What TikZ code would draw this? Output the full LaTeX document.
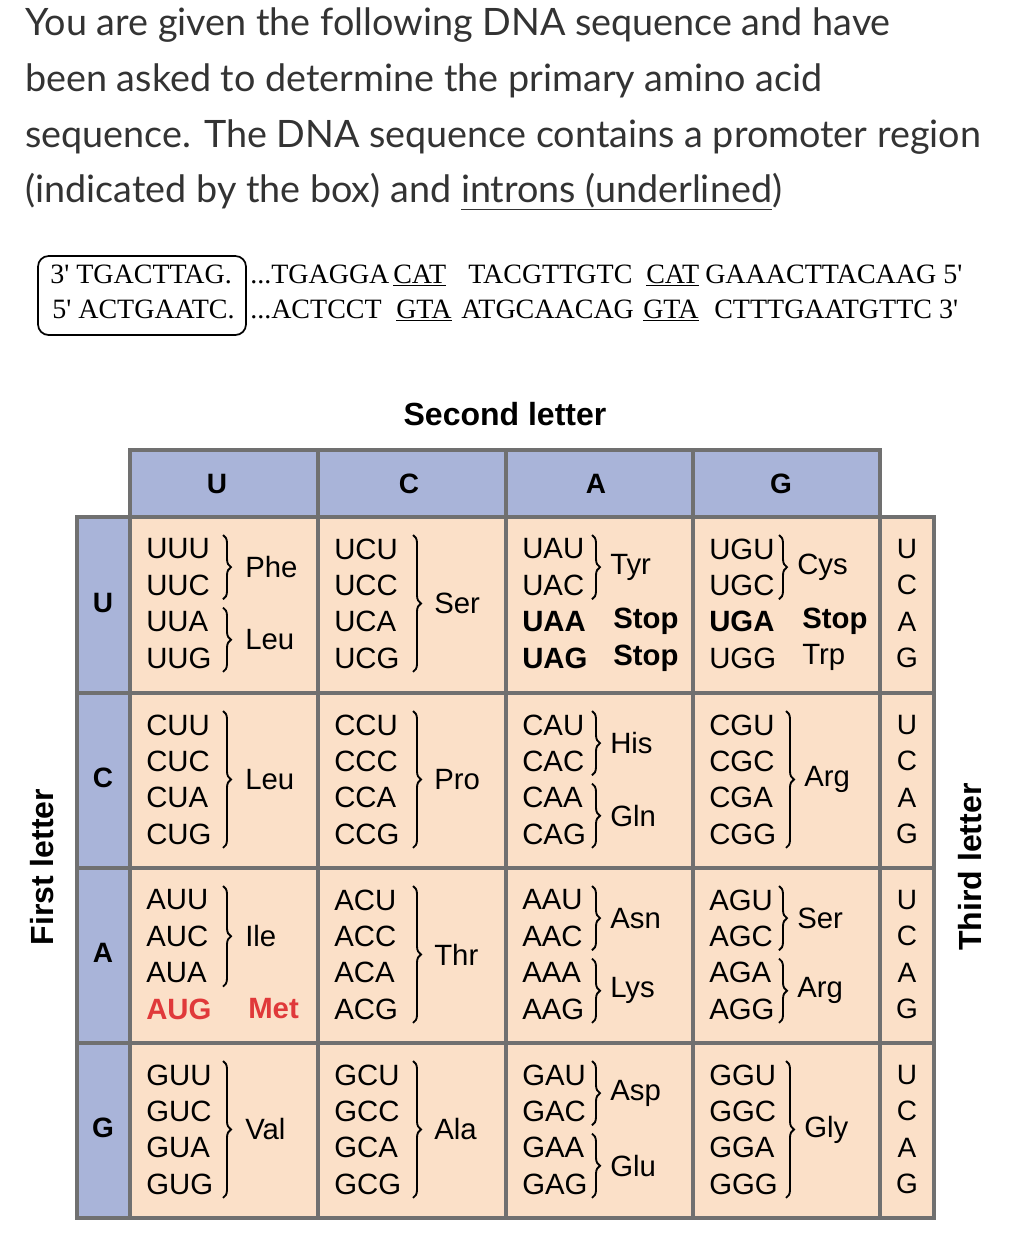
\documentclass[tikz,border=0pt]{standalone}
\usepackage{fontspec}
\setmainfont{Liberation Sans}
\newfontfamily\lato{Lato}
\newfontfamily\tms{Liberation Serif}
\usetikzlibrary{decorations.pathreplacing}
\definecolor{hdr}{HTML}{A9B4D9}
\definecolor{cel}{HTML}{FBE0C8}
\definecolor{grd}{HTML}{707070}
\definecolor{metred}{HTML}{E0393A}
\tikzset{
 cd/.style={inner sep=0pt,anchor=west,font=\fontsize{22}{24}\selectfont},
 hd/.style={inner sep=0pt,font=\bfseries\fontsize{21}{24}\selectfont},
 lbl/.style={inner sep=0pt,font=\bfseries\fontsize{24}{26}\selectfont},
 brc/.style={decorate,decoration={brace,amplitude=6},line width=1.4pt},
 ttl/.style={inner sep=0pt,anchor=base west,font=\lato\fontsize{28.3}{30}\selectfont,text=black!80},
 dna/.style={inner sep=0pt,anchor=base west,font=\tms\fontsize{21}{22}\selectfont},
 grid/.style={draw=grd,line width=2.5pt}
}
\newcommand\cod[4]{\node[cd] at (#1+16,{#2+32+36.3*#3}) {#4};}
\newcommand\brc[6]{\draw[brc] (#1,{#2+18+36.3*#3}) -- (#1,{#2+46+36.3*#4});
 \node[cd] at (#1+#6,{#2+32+36.3*(#3+#4)/2}) {#5};}
\begin{document}
\begin{tikzpicture}[x=0.75pt,y=-0.75pt]
\useasboundingbox (0,0) rectangle (1012,1254);
% title
\node[ttl] (t1) at (25,35) {You are given the following DNA sequence and have};
\node[ttl] (t2) at (25,91) {been asked to determine the primary amino acid};
\node[ttl] (t3) at (25,147) {sequence. The DNA sequence contains a promoter region};
\node[ttl] (t4) at (25,202) {(indicated by the box) and \underline{introns (underlined})};
% DNA
\draw[line width=1.3pt,rounded corners=8pt] (38,256) rectangle (246,335);
\node[dna] (a1) at (50,283) {3' TGACTTAG.};
\node[dna] (a2) at (250,283) {...TGAGGA};
\node[dna] (a3) at (393,283) {\underline{CAT}};
\node[dna] (a4) at (468,283) {TACGTTGTC};
\node[dna] (a5) at (646,283) {\underline{CAT}};
\node[dna] (a6) at (705,283) {GAAACTTACAAG 5'};
\node[dna] (b1) at (52,318) {5' ACTGAATC.};
\node[dna] (b2) at (250,318) {...ACTCCT};
\node[dna] (b3) at (396,318) {\underline{GTA}};
\node[dna] (b4) at (461,318) {ATGCAACAG};
\node[dna] (b5) at (643,318) {\underline{GTA}};
\node[dna] (b6) at (714,318) {CTTTGAATGTTC 3'};
% table backgrounds
\fill[hdr] (130,450) rectangle (880,517);
\fill[hdr] (77,517) rectangle (130,1218);
\fill[cel] (130,517) rectangle (934,1218);
\draw[grid] (130,450) rectangle (880,517);
\foreach \x in {318,506,693} \draw[grid] (\x,450) -- (\x,1218);
\draw[grid] (77,517) rectangle (934,1218);
\foreach \x in {130,880} \draw[grid] (\x,517) -- (\x,1218);
\foreach \y in {693,868,1043} \draw[grid] (77,\y) -- (934,\y);
% labels
\node[lbl] (sl) at (505,414) {Second letter};
\node[lbl,rotate=90] (fl) at (42,867) {First letter};
\node[lbl,rotate=90] (tl) at (970,867) {Third letter};
\foreach \t/\x in {U/217,C/409,A/596,G/781} \node[hd] at (\x,484) {\t};
\foreach \t/\y in {U/603,C/778,A/953,G/1128} \node[hd] at (103,\y) {\t};
\foreach \R in {517,693,868,1043}
 \foreach \t [count=\i from 0] in {U,C,A,G}
  \node[cd,anchor=center,font=\fontsize{21}{24}\selectfont] at (907,{\R+32+36.3*\i}) {\t};
% Row U
\cod{130}{517}{0}{UUU}\cod{130}{517}{1}{UUC}\cod{130}{517}{2}{UUA}\cod{130}{517}{3}{UUG}
\brc{223}{517}{0}{1}{Phe}{22}\brc{223}{517}{2}{3}{Leu}{22}
\cod{318}{517}{0}{UCU}\cod{318}{517}{1}{UCC}\cod{318}{517}{2}{UCA}\cod{318}{517}{3}{UCG}
\brc{413}{517}{0}{3}{Ser}{21}
\cod{506}{517}{0}{UAU}\cod{506}{517}{1}{UAC}\brc{592}{517}{0}{1}{Tyr}{18}
\cod{506}{517}{2}{\textbf{UAA}}\cod{506}{517}{3}{\textbf{UAG}}
\node[cd] at (613,{517+32+36.3*2}) {\textbf{Stop}};
\node[cd] at (613,{517+32+36.3*3}) {\textbf{Stop}};
\cod{693}{517}{0}{UGU}\cod{693}{517}{1}{UGC}\brc{779}{517}{0}{1}{Cys}{18}
\cod{693}{517}{2}{\textbf{UGA}}\cod{693}{517}{3}{UGG}
\node[cd] at (802,{517+32+36.3*2}) {\textbf{Stop}};
\node[cd] at (802,{517+32+36.3*3}) {Trp};
% Row C
\cod{130}{693}{0}{CUU}\cod{130}{693}{1}{CUC}\cod{130}{693}{2}{CUA}\cod{130}{693}{3}{CUG}
\brc{223}{693}{0}{3}{Leu}{22}
\cod{318}{693}{0}{CCU}\cod{318}{693}{1}{CCC}\cod{318}{693}{2}{CCA}\cod{318}{693}{3}{CCG}
\brc{413}{693}{0}{3}{Pro}{21}
\cod{506}{693}{0}{CAU}\cod{506}{693}{1}{CAC}\cod{506}{693}{2}{CAA}\cod{506}{693}{3}{CAG}
\brc{592}{693}{0}{1}{His}{18}\brc{592}{693}{2}{3}{Gln}{18}
\cod{693}{693}{0}{CGU}\cod{693}{693}{1}{CGC}\cod{693}{693}{2}{CGA}\cod{693}{693}{3}{CGG}
\brc{786}{693}{0}{3}{Arg}{18}
% Row A
\cod{130}{868}{0}{AUU}\cod{130}{868}{1}{AUC}\cod{130}{868}{2}{AUA}
\cod{130}{868}{3}{\textcolor{metred}{\textbf{AUG}}}
\node[cd] at (248,{868+32+36.3*3}) {\textcolor{metred}{\textbf{Met}}};
\brc{223}{868}{0}{2}{Ile}{22}
\cod{318}{868}{0}{ACU}\cod{318}{868}{1}{ACC}\cod{318}{868}{2}{ACA}\cod{318}{868}{3}{ACG}
\brc{413}{868}{0}{3}{Thr}{21}
\cod{506}{868}{0}{AAU}\cod{506}{868}{1}{AAC}\cod{506}{868}{2}{AAA}\cod{506}{868}{3}{AAG}
\brc{592}{868}{0}{1}{Asn}{18}\brc{592}{868}{2}{3}{Lys}{18}
\cod{693}{868}{0}{AGU}\cod{693}{868}{1}{AGC}\cod{693}{868}{2}{AGA}\cod{693}{868}{3}{AGG}
\brc{779}{868}{0}{1}{Ser}{18}\brc{779}{868}{2}{3}{Arg}{18}
% Row G
\cod{130}{1043}{0}{GUU}\cod{130}{1043}{1}{GUC}\cod{130}{1043}{2}{GUA}\cod{130}{1043}{3}{GUG}
\brc{223}{1043}{0}{3}{Val}{22}
\cod{318}{1043}{0}{GCU}\cod{318}{1043}{1}{GCC}\cod{318}{1043}{2}{GCA}\cod{318}{1043}{3}{GCG}
\brc{413}{1043}{0}{3}{Ala}{21}
\cod{506}{1043}{0}{GAU}\cod{506}{1043}{1}{GAC}\cod{506}{1043}{2}{GAA}\cod{506}{1043}{3}{GAG}
\brc{592}{1043}{0}{1}{Asp}{18}\brc{592}{1043}{2}{3}{Glu}{18}
\cod{693}{1043}{0}{GGU}\cod{693}{1043}{1}{GGC}\cod{693}{1043}{2}{GGA}\cod{693}{1043}{3}{GGG}
\brc{786}{1043}{0}{3}{Gly}{18}
\end{tikzpicture}
\end{document}
